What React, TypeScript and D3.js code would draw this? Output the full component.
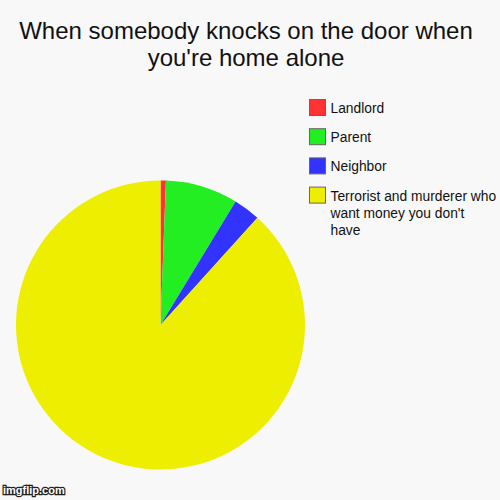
import React from "react";
import * as d3 from "d3";

const categories = ["Landlord", "Parent", "Neighbor", "Terrorist and murderer who want money you don't have"];
const values = [0.6, 8.1, 3.0, 88.3];
const colors = ["#ff3333", "#22ee22", "#3333ff", "#eeee00"];
const titleLines = ["When somebody knocks on the door when", "you're home alone"];
const legendLines = [["Landlord"], ["Parent"], ["Neighbor"], ["Terrorist and murderer who", "want money you don't", "have"]];

export default function App() {
  const W = 500, H = 500;
  const cx = 160.5, cy = 325, r = 144.5;
  const pie = d3.pie<number>().sort(null).value((d) => d);
  const arcs = pie(values);
  const arc = d3.arc<d3.PieArcDatum<number>>().innerRadius(0).outerRadius(r);
  const font = "'Liberation Sans', Arial, sans-serif";
  return (
    <div style={{ position: "absolute", left: 0, top: 0 }}>
      <svg width={W} height={H} style={{ display: "block" }}>
        <rect width={W} height={H} fill="#f8f8f8" />
        {titleLines.map((t, i) => (
          <text key={i} x={246} y={39 + i * 27} textAnchor="middle" fontFamily={font} fontSize={24} fill="#111">
            {t}
          </text>
        ))}
        <g transform={`translate(${cx},${cy})`}>
          {arcs.map((a, i) => (
            <path key={i} d={arc(a) || ""} fill={colors[i]} />
          ))}
        </g>
        {categories.map((c, i) => {
          const y0 = 99.5 + i * 29.2;
          return (
            <g key={c}>
              <rect x={309.5} y={y0} width={16} height={16} fill={colors[i]} stroke="#666" strokeWidth={1} />
              {legendLines[i].map((l, j) => (
                <text key={j} x={330.5} y={y0 + 13.5 + j * 17} fontFamily={font} fontSize={13.8} fill="#111">
                  {l}
                </text>
              ))}
            </g>
          );
        })}
        <text x={3} y={494} fontFamily={font} fontSize={11} fontWeight="bold" fill="#fff" stroke="#222" strokeWidth={2.5} paintOrder="stroke">
          imgflip.com
        </text>
      </svg>
    </div>
  );
}
